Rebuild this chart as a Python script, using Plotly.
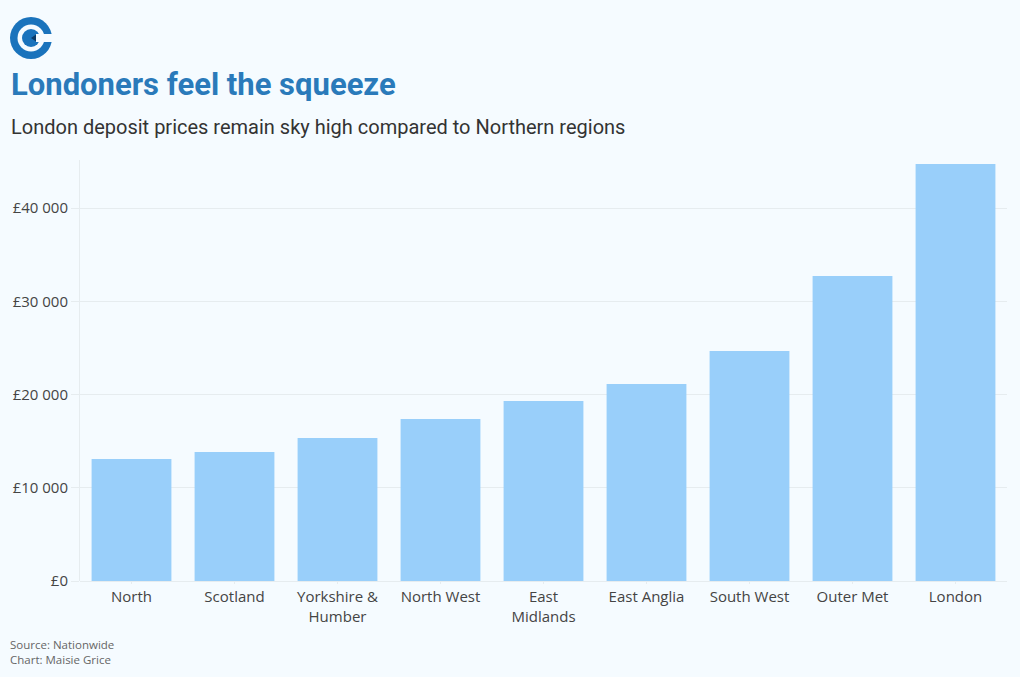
import plotly.graph_objects as go

regions = ["North", "Scotland", "Yorkshire &<br>Humber", "North West", "East<br>Midlands",
           "East Anglia", "South West", "Outer Met", "London"]
deposits = [13080, 13830, 15340, 17370, 19300, 21130, 24670, 32710, 44720]
y_ticks = [0, 10000, 20000, 30000, 40000]
y_tick_text = ["£" + f"{v:,}".replace(",", " ") for v in y_ticks]

W, H = 1020, 677
L, R, T, B = 80, 13, 160, 96
pw, ph = W - L - R, H - T - B

def px(x):
    return (x - L) / pw

def py(y):
    return (H - B - y) / ph

BG = "#f5fbff"
fig = go.Figure(go.Bar(x=regions, y=deposits, marker=dict(color="#99cffa", line=dict(width=0))))

fig.update_layout(
    width=W, height=H,
    margin=dict(l=L, r=R, t=T, b=B, pad=0),
    paper_bgcolor=BG, plot_bgcolor=BG,
    bargap=0.225,
    showlegend=False,
    font=dict(family="Open Sans", color="#444"),
)
fig.update_yaxes(range=[0, 45150], tickvals=y_ticks, ticktext=y_tick_text,
                 showgrid=True, gridcolor="#e6ecef", gridwidth=1, zeroline=True,
                 zerolinecolor="#e6ecef", zerolinewidth=1,
                 ticks="outside", ticklen=8, tickcolor="#e6ecef",
                 tickfont=dict(size=15, color="#444"), showline=True, linecolor="#e6ecef")
fig.update_xaxes(showgrid=False, ticks="outside", ticklen=2, tickcolor="#e6ecef",
                 tickfont=dict(size=15, color="#444"))

ann = [
    dict(text="<b>Londoners feel the squeeze</b>", x=px(9), y=py(84), xanchor="left", yanchor="middle",
         font=dict(family="Roboto", size=31, color="#2a7aba")),
    dict(text="London deposit prices remain sky high compared to Northern regions", x=px(9), y=py(127),
         xanchor="left", yanchor="middle", font=dict(family="Roboto", size=20, color="#333")),
    dict(text="Source: Nationwide", x=px(8), y=py(644), xanchor="left", yanchor="middle",
         font=dict(size=11.5, color="#666")),
    dict(text="Chart: Maisie Grice", x=px(8), y=py(659), xanchor="left", yanchor="middle",
         font=dict(size=11.5, color="#666")),
]
for a in ann:
    a.update(xref="paper", yref="paper", showarrow=False, align="left")
fig.update_layout(annotations=ann)

cx, cy = px(31), py(38)
def circ(r, color):
    return dict(type="circle", xref="paper", yref="paper", xsizemode="pixel", ysizemode="pixel",
                xanchor=cx, yanchor=cy, x0=-r, x1=r, y0=-r, y1=r, fillcolor=color, line=dict(width=0))
def rect(x0, x1, y0, y1, color):
    return dict(type="rect", xref="paper", yref="paper", xsizemode="pixel", ysizemode="pixel",
                xanchor=cx, yanchor=cy, x0=x0, x1=x1, y0=y0, y1=y1, fillcolor=color, line=dict(width=0))
shapes = [
    circ(21, "#1a73bc"),
    circ(13.5, BG),
    circ(9, "#1a73bc"),
    rect(5, 22, -4, 4, BG),
    dict(type="path", xref="paper", yref="paper", xsizemode="pixel", ysizemode="pixel",
         xanchor=cx, yanchor=cy, path="M 0,0 L 5,-3.5 L 5,3.5 Z", fillcolor="#0b3a66", line=dict(width=0)),
]
fig.update_layout(shapes=shapes)

fig.write_html("out.html")
